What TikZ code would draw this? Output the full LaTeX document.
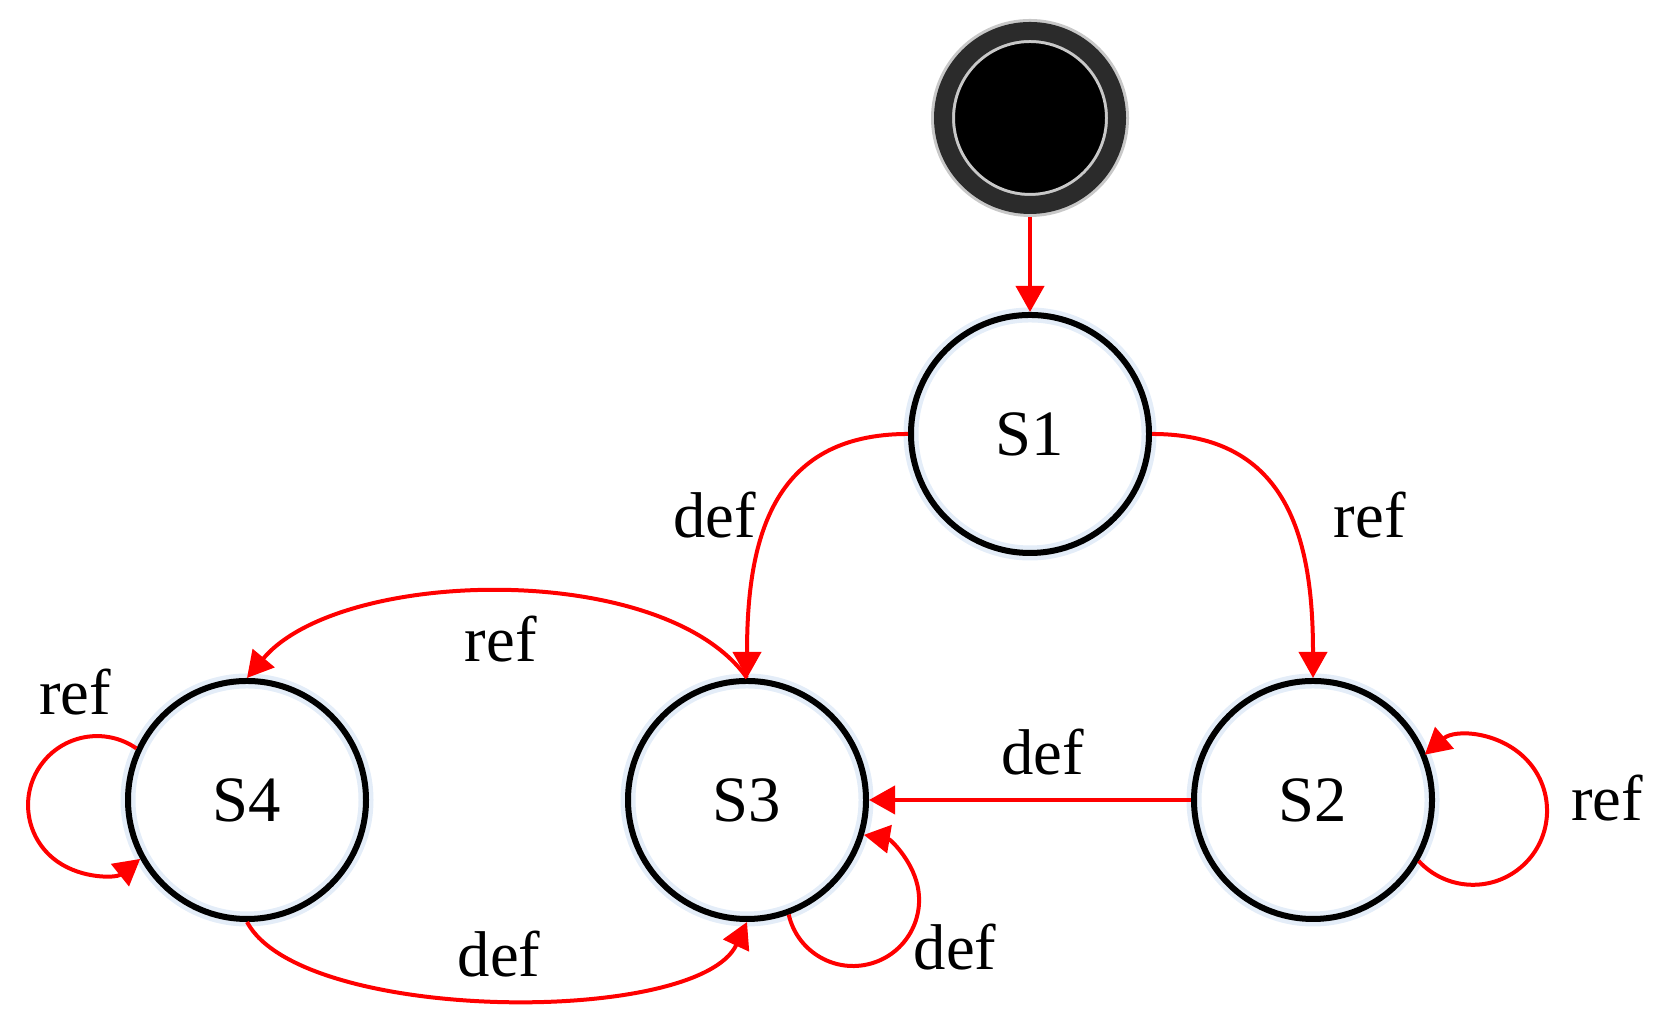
\documentclass[tikz,border=0pt]{standalone}
\usepackage{fontspec}
\setmainfont{Liberation Serif}
\usepackage{xcolor}
\usepackage{tikz}
\usetikzlibrary{shapes,arrows,positioning,calc,arrows.meta}
\definecolor{ringdark}{RGB}{43,43,43}
\definecolor{ringgray}{RGB}{200,200,200}
\definecolor{glow}{RGB}{228,237,248}
\tikzset{
  fsm state/.style={circle, draw=black, line width=0.06cm, minimum size=2.38cm, inner sep=0pt, outer sep=0.03cm, font=\fontsize{18.4}{22}\selectfont, preaction={draw=glow, line width=0.15cm}},
  fsm start/.style={circle, fill=black, draw=ringgray, line width=0.03cm, double=ringdark, double distance=0.18cm, minimum size=1.74cm, inner sep=0pt, outer sep=0.12cm},
  fsm trans/.style={draw=red, line width=0.04cm, -{Triangle[length=0.26cm, width=0.28cm]}},
  fsm label/.style={font=\fontsize{18.4}{22}\selectfont, inner sep=0pt}
}
\begin{document}
\begin{tikzpicture}[node distance=1cm]
    \useasboundingbox (0,0) rectangle (16.63,10.26);

    % Initial state
    \node [fsm start] (start) at (10.30,9.08) {};

    % States
    \node [fsm state, below=0.95cm of start] (S1) {S1};
    \node [fsm state] (S3) at (7.47,2.26) {S3};
    \node [fsm state, left=2.56cm of S3] (S4) {S4};
    \node [fsm state, right=3.22cm of S3] (S2) {S2};

    % Transitions
    \draw [fsm trans] (start) -- (S1);
    \draw [fsm trans] (S1.west) to[out=180, in=90, looseness=1.2] node [fsm label, pos=.5, left=0.18cm, yshift=-0.1cm] (l13) {def} (S3.north);
    \draw [fsm trans] (S1.east) to[out=0, in=90, looseness=1.2] node [fsm label, pos=.5, right=0.48cm, yshift=-0.1cm] (l12) {ref} (S2.north);
    \draw [fsm trans] (S2.west) -- node [fsm label, pos=.46, above=0.23cm] (l23) {def} (S3.east);
    \draw [fsm trans] (S3.north) to[out=125, in=50, looseness=0.74] node [fsm label, pos=.5, below=0.22cm] (l34) {ref} (S4.north);
    \draw [fsm trans] (S4.south) to[out=-62, in=-115, looseness=0.59] node [fsm label, pos=.5, above=0.2cm] (l43) {def} (S3.south);

    % Self loops
    \draw [fsm trans] (S2.-30) arc[start angle=222.7, end angle=490.7, radius=0.74];
    \draw [fsm trans] (S3.-70) arc[start angle=192.8, end angle=440.6, radius=0.66];
    \draw [fsm trans] (S4.155) arc[start angle=55.2, end angle=308.7, radius=0.69];
    \node [fsm label] (l22) at ($(S2)+(2.94,0.02)$) {ref};
    \node [fsm label] (l33) at ($(S3)+(2.08,-1.47)$) {def};
    \node [fsm label] (l44) at ($(S4)+(-1.72,1.08)$) {ref};
\end{tikzpicture}
\end{document}
